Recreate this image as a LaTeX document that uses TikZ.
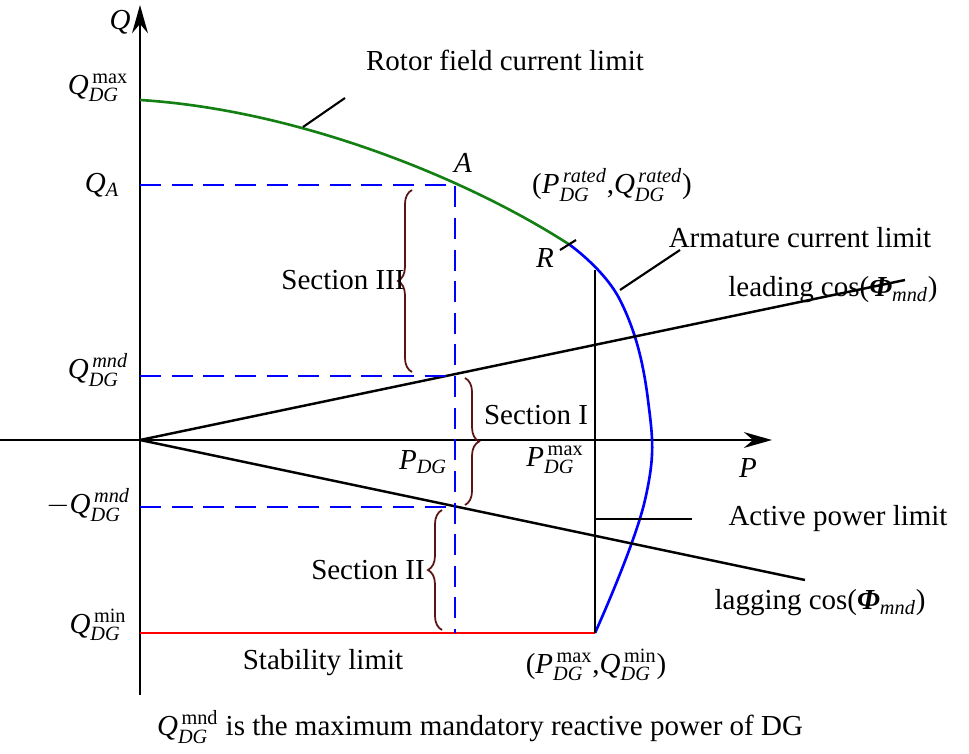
\documentclass[tikz,border=0pt]{standalone}
\usepackage{fontspec}
\setmainfont{Liberation Serif}
\usepackage{amsmath}
\usetikzlibrary{decorations.pathreplacing,arrows.meta}
\definecolor{dgreen}{RGB}{20,128,20}
\definecolor{dbrown}{RGB}{90,20,20}
\newcommand{\phimnd}{\textbf{\textit{Φ}}$_{\mathit{mnd}}$}
\begin{document}
\begin{tikzpicture}[x=0.02cm,y=-0.02cm,thick,font=\fontsize{16.5}{20}\selectfont]
    \tikzset{
      axis/.style={-{Stealth[length=16pt,width=9pt]}, line width=1.4pt},
      guide/.style={blue, dashed, dash pattern=on 12pt off 6pt, line width=1.2pt},
      sect/.style={dbrown, decorate, decoration={brace, amplitude=8pt}, line width=1pt},
      lbl/.style={inner sep=1pt}
    };
    \useasboundingbox (0,0) rectangle (969,753);

    % Axes
    \coordinate (o) at (140,440);
    \coordinate (qtop) at (140,5);
    \coordinate (qbot) at (140,695);
    \coordinate (pl) at (0,440);
    \coordinate (pr) at (772,440);
    \draw[axis] (qbot) -- (qtop);
    \draw[axis] (pl) -- (pr);

    % Corner points
    \coordinate (qmax) at (140,100);
    \coordinate (r) at (570,245);
    \coordinate (a) at (455,185);
    \coordinate (pmin) at (595,633);
    \coordinate (qmin) at (140,633);
    \coordinate (ptop) at (595,270);

    % Limits
    \draw[dgreen, line width=1.5pt] (qmax) .. controls (300,110) and (470,180) .. (r);
    \draw[blue, line width=1.5pt] plot[smooth, tension=0.7] coordinates {(570,245) (620,300) (648,400) (645,500) (595,633)};
    \draw[red, line width=1.5pt] (qmin) -- (pmin);
    \draw[line width=1.4pt] (ptop) -- (pmin);
    \coordinate (lead) at (905,280);
    \coordinate (lag) at (805,580);
    \draw[line width=1.4pt] (o) -- (lead);
    \draw[line width=1.4pt] (o) -- (lag);

    % Guides
    \coordinate (qa) at (140,185);
    \coordinate (qmnd) at (140,376);
    \coordinate (qmmnd) at (140,507);
    \coordinate (pbot) at (455,633);
    \draw[guide] (qa) -- (a) -- (pbot);
    \draw[guide] (qmnd) -- (455,376);
    \draw[guide] (qmmnd) -- (455,507);

    % Sections
    \draw[sect] (412,372) -- (412,190);
    \draw[sect] (465,378) -- (465,505);
    \draw[sect] (442,630) -- (442,510);
    \node[lbl] (s3) at (343,280) {Section III};
    \node[lbl] (s1) at (536,415) {Section I};
    \node[lbl] (s2) at (368,570) {Section II};

    % Axis labels
    \node[lbl] (lq) at (120,22) {\textit{Q}};
    \node[lbl] (lp) at (748,468) {\textit{P}};
    \node[lbl] (lqmax) at (98,88) {\textit{Q}$_{\mathit{DG}}^{\,\mathrm{max}}$};
    \node[lbl] (lqa) at (102,185) {\textit{Q}$_{\mathit{A}}$};
    \node[lbl] (lqmnd) at (98,370) {\textit{Q}$_{\mathit{DG}}^{\,\mathit{mnd}}$};
    \node[lbl] (lqmmnd) at (88,505) {$-$\textit{Q}$_{\mathit{DG}}^{\,\mathit{mnd}}$};
    \node[lbl] (lqmin) at (98,625) {\textit{Q}$_{\mathit{DG}}^{\,\mathrm{min}}$};
    \node[lbl] (lpdg) at (423,462) {\textit{P}$_{\mathit{DG}}$};
    \node[lbl] (lpmax) at (555,460) {\textit{P}$_{\mathit{DG}}^{\,\mathrm{max}}$};
    \node[lbl] (la) at (463,163) {\textit{A}};
    \node[lbl] (lr) at (545,258) {\textit{R}};
    \node[lbl] (lrated) at (612,185) {(\textit{P}$_{\mathit{DG}}^{\,\mathit{rated}}$,\textit{Q}$_{\mathit{DG}}^{\,\mathit{rated}}$)};
    \node[lbl] (lpq) at (596,665) {(\textit{P}$_{\mathit{DG}}^{\,\mathrm{max}}$,\textit{Q}$_{\mathit{DG}}^{\,\mathrm{min}}$)};

    % Limit labels
    \node[lbl] (lrotor) at (505,60) {Rotor field current limit};
    \node[lbl] (larm) at (800,238) {Armature current limit};
    \node[lbl] (llead) at (833,290) {leading cos(\phimnd)};
    \node[lbl] (lact) at (838,519) {Active power limit};
    \node[lbl] (llag) at (820,603) {lagging cos(\phimnd)};
    \node[lbl] (lstab) at (323,663) {Stability limit};
    \node[lbl] (lnote) at (480,727) {\textit{Q}$_{\mathit{DG}}^{\,\mathrm{mnd}}$ is the maximum mandatory reactive power of DG};

    % Leaders
    \coordinate (c1) at (303,127);
    \coordinate (c2) at (345,98);
    \coordinate (c3) at (620,290);
    \coordinate (c4) at (680,250);
    \coordinate (c5) at (595,519);
    \coordinate (c6) at (692,519);
    \coordinate (c7) at (560,250);
    \coordinate (c8) at (576,240);
    \draw[line width=1.2pt] (c1) -- (c2);
    \draw[line width=1.2pt] (c3) -- (c4);
    \draw[line width=1.2pt] (c5) -- (c6);
    \draw[line width=1.2pt] (c7) -- (c8);
  \end{tikzpicture}
\end{document}
